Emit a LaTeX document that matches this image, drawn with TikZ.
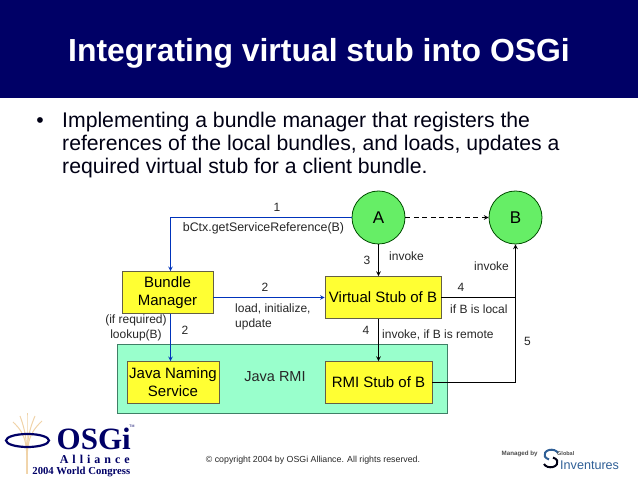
\documentclass[tikz,border=0pt]{standalone}
\usepackage{fontspec}
\setmainfont{Liberation Sans}
\newfontfamily\logofont{Liberation Serif}
\usetikzlibrary{shapes.geometric, arrows, backgrounds}
\definecolor{navy}{HTML}{000066}
\definecolor{boxyellow}{HTML}{FFFF33}
\definecolor{circgreen}{HTML}{66EE66}
\definecolor{rmigreen}{HTML}{99FFCC}
\definecolor{rmiedge}{HTML}{3F7F66}
\definecolor{linkblue}{HTML}{0033BB}
\definecolor{raytan}{HTML}{F0D3A8}
\definecolor{invblue}{HTML}{2F5F96}
\newcommand{\fsz}[1]{\fontsize{#1}{#1}\selectfont}
\tikzstyle{boxnode} = [rectangle, minimum height=42pt, inner sep=0pt, align=center,
                       font=\fontsize{15}{18}\selectfont, draw=black!70!yellow,
                       fill=boxyellow, line width=0.8pt]
\tikzstyle{circnode} = [circle, minimum width=53pt, inner sep=0pt,
                        font=\fsz{17}, draw=black!70!green, fill=circgreen, line width=0.8pt]
\tikzstyle{lab}   = [inner sep=0pt, align=center, font=\fsz{12}, text=black!85]
\tikzstyle{labl}  = [lab, anchor=west, align=left]
\tikzstyle{arrow} = [line width=1.1pt,->,>=stealth]
\tikzstyle{bluearrow} = [arrow, line width=1pt, draw=linkblue]
\tikzstyle{line}  = [line width=1.1pt]
\tikzstyle{ray}   = [draw=raytan, line width=1pt]

\begin{document}
\begin{tikzpicture}[x=1pt, y=1pt, node distance=100pt]
\useasboundingbox (0,0) rectangle (638,-478);
\node (head) [rectangle, draw=none, fill=navy, minimum width=638pt, minimum height=98pt,
              inner sep=0pt, anchor=north west] at (0,0) {};
\node (title) [inner sep=0pt, text=white, font=\fsz{31.9}\bfseries] at (319,-53.5)
      {Integrating virtual stub into OSGi};
\node (bul) [inner sep=0pt, font=\fsz{21.2}, text=black!80!navy] at (40,-123) {•};
\node (body) [inner sep=0pt, anchor=north west, align=left, font=\fontsize{21.2}{23.2}\selectfont,
              text=black!80!navy] at (62,-112)
      {Implementing a bundle manager that registers the\\
       references of the local bundles, and loads, updates a\\
       required virtual stub for a client bundle.};

\node (rmi) [rectangle, minimum width=330pt, minimum height=69pt, inner sep=0pt,
             draw=rmiedge, fill=rmigreen, line width=1pt] at (282,-379.5) {};

\node (a)   [circnode] at (378.5,-217.5) {A};
\node (b)   [circnode, right of=a, node distance=137pt] {B};
\node (vs)  [boxnode, below of=a, node distance=80pt, xshift=4.5pt, minimum width=116pt] {Virtual Stub of B};
\node (rs)  [boxnode, below of=vs, node distance=85pt, xshift=-4.5pt, minimum width=107pt] {RMI Stub of B};
\node (bm)  [boxnode, left of=vs, node distance=215.5pt, yshift=5pt, minimum width=91pt] {Bundle\\ Manager};
\node (jn)  [boxnode, left of=rs, node distance=205.5pt, minimum width=92pt] {Java Naming\\ Service};

\coordinate (up)  at (170.5,-217.5);
\coordinate (mid) at (b |- vs);

\draw [line, line width=1pt, draw=linkblue] (a.west) -- (up);
\draw [bluearrow] (up) -- (up |- bm.north);
\draw [bluearrow] (bm.east |- vs) -- (vs);
\draw [bluearrow] (bm.south -| up) -- (up |- jn.north);
\draw [arrow] (a) -- (a |- vs.north);
\draw [arrow] (a |- vs.south) -- (a |- rs.north);
\draw [arrow, dash pattern=on 5pt off 3.5pt] (a) -- (b);
\draw [line] (vs) -- (mid);
\draw [arrow] (rs) -| (b);

\node (l1)  [lab]  at (277,-207) {1};
\node (l1t) [lab, font=\fsz{12.4}]  at (263.5,-228.5) {bCtx.getServiceReference(B)};
\node (l2a) [lab]  at (265,-287.5) {2};
\node (l2t) [labl, font=\fontsize{12}{15}\selectfont] at (235,-316.5) {load, initialize,\\ update};
\node (l2b) [lab]  at (185,-330) {2};
\node (lup) [lab, font=\fontsize{12}{15}\selectfont] at (136,-328) {(if required)\\ lookup(B)};
\node (l3)  [lab]  at (367,-260.5) {3};
\node (inv) [labl] at (389,-256) {invoke};
\node (inb) [labl] at (474,-266) {invoke};
\node (l4a) [lab]  at (461,-287.5) {4};
\node (lo)  [labl] at (450,-309) {if B is local};
\node (l4b) [lab]  at (366,-330) {4};
\node (rem) [labl] at (382,-335) {invoke, if B is remote};
\node (l5)  [lab]  at (527.5,-341) {5};
\node (jr)  [lab, font=\fsz{14.5}] at (275,-376.5) {Java RMI};
\node (cpy) [lab, font=\fsz{8.8}] at (313,-460.5) {© copyright 2004 by OSGi Alliance. All rights reserved.};

% logo left
\coordinate (root) at (27,-474);
\foreach \tx/\ty in {13/-422, 20/-416, 27/-413, 35/-416, 42/-421} {
  \coordinate (tip) at (\tx,\ty);
  \draw [ray] (root) .. controls (27,-445) and (27,-435) .. (tip);
}
\draw [draw=navy, line width=2.2pt] (27.5,-440.5) ellipse (21.5pt and 6.5pt);
\node (osgi) [inner sep=0pt, anchor=base east, text=navy, font=\logofont\fsz{31}\bfseries] at (131,-450) {OSGi};
\node (tm)   [inner sep=0pt, text=navy, font=\fsz{3.5}] at (132,-426.5) {TM};
\node (all)  [inner sep=0pt, anchor=base east, text=navy, font=\logofont\fsz{12}\bfseries] at (130,-463.5)
      {A\,\,l\,\,l\,\,i\,\,a\,\,n\,\,c\,\,e};
\node (wc)   [inner sep=0pt, anchor=base east, text=navy, font=\logofont\fsz{10.7}\bfseries] at (130.5,-475)
      {2004 World Congress};

% logo right
\node (mgd)  [inner sep=0pt, anchor=west, text=black!70, font=\fsz{6.2}\bfseries] at (501.5,-453.5) {Managed by};
\draw [draw=invblue, line width=2pt] (558,-453) arc (20:250:7pt and 5pt);
\draw [draw=black!80!navy, line width=2pt] (544,-464) arc (200:430:7pt and 5pt);
\node (glb)  [inner sep=0pt, anchor=west, text=black!70, font=\fsz{5.5}\bfseries] at (557,-453.5) {Global};
\node (invt) [inner sep=0pt, anchor=west, text=invblue, font=\fsz{12.6}] at (560,-465) {Inventures};
\end{tikzpicture}
\end{document}
